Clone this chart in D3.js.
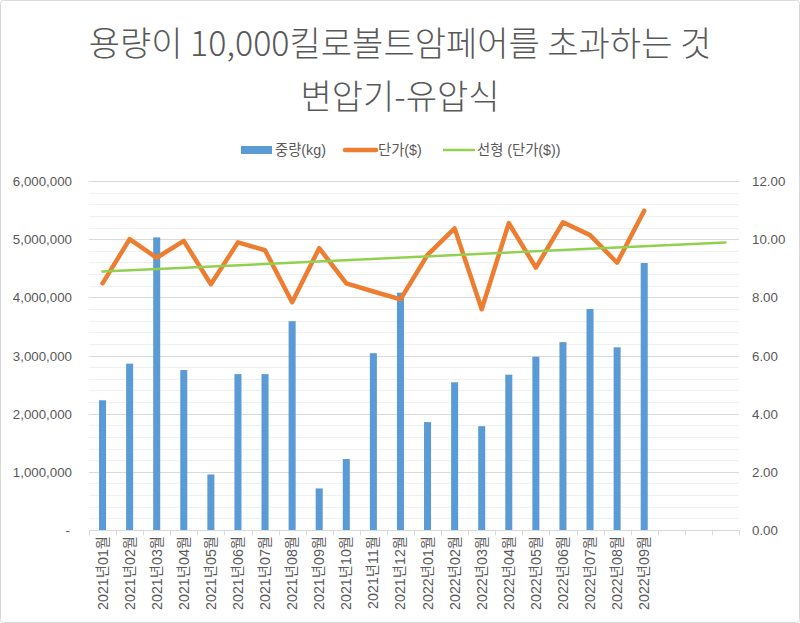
<!DOCTYPE html>
<html>
<head>
<meta charset="utf-8">
<script src="https://cdn.jsdelivr.net/npm/d3@7"></script>
<style>
  html, body { margin: 0; padding: 0; background: #fff; }
  svg { display: block; }
</style>
</head>
<body>
<svg id="chart" width="800" height="623"></svg>
<script>
// ---------------- DATA ----------------
const categories = [
  "2021년01월","2021년02월","2021년03월","2021년04월","2021년05월","2021년06월",
  "2021년07월","2021년08월","2021년09월","2021년10월","2021년11월","2021년12월",
  "2022년01월","2022년02월","2022년03월","2022년04월","2022년05월","2022년06월",
  "2022년07월","2022년08월","2022년09월"
];
const emptySlots = ["", " ", "  "];   // trendline forecast periods (blank categories)
const weightKg = [
  2230000, 2860000, 5030000, 2750000, 955000, 2680000,
  2680000, 3590000, 715000, 1220000, 3040000, 4080000,
  1855000, 2540000, 1785000, 2670000, 2980000, 3230000,
  3800000, 3140000, 4590000
];
const unitPrice = [
  8.48, 10.00, 9.36, 9.94, 8.45, 9.89,
  9.62, 7.83, 9.69, 8.48, 8.20, 7.93,
  9.46, 10.37, 7.59, 10.55, 9.02, 10.58,
  10.14, 9.19, 10.98
];
const leftTicks = [0, 1000000, 2000000, 3000000, 4000000, 5000000, 6000000];
const rightTicks = [0, 2, 4, 6, 8, 10, 12];
const titleLines = ["용량이 10,000킬로볼트암페어를 초과하는 것", "변압기-유압식"];
const legendLabels = ["중량(kg)", "단가($)", "선형 (단가($))"];
const forecastForward = 3;

// ---------------- LAYOUT ----------------
const svg = d3.select("#chart");
const W = 800, H = 623;
const plot = { left: 89, right: 739, top: 181, bottom: 530 };
const gray = "#595959";
const font = "'Liberation Sans','Noto Sans CJK KR',sans-serif";

// chart border
svg.append("rect").attr("x", 0.5).attr("y", 0.5).attr("width", W - 1).attr("height", H - 1)
  .attr("rx", 3).attr("fill", "#fff").attr("stroke", "#d9d9d9");

// scales
const slots = categories.concat(emptySlots);
const x = d3.scaleBand().domain(slots).range([plot.left, plot.right])
  .paddingInner(0.74).paddingOuter(0.37);
const step = x.step();
const xc = i => x(slots[i]) + x.bandwidth() / 2;
const yL = d3.scaleLinear().domain([0, 6000000]).range([plot.bottom, plot.top]);
const yR = d3.scaleLinear().domain([0, 12]).range([plot.bottom, plot.top]);

// minor gridlines
const minor = d3.range(0, 6000001, 200000).filter(v => v % 1000000 !== 0);
svg.append("g").selectAll("line").data(minor).join("line")
  .attr("x1", plot.left).attr("x2", plot.right)
  .attr("y1", d => Math.round(yL(d)) + 0.5).attr("y2", d => Math.round(yL(d)) + 0.5)
  .attr("stroke", "#f0f0f0").attr("stroke-width", 1);
// major gridlines
svg.append("g").selectAll("line").data(leftTicks.filter(v => v > 0)).join("line")
  .attr("x1", plot.left).attr("x2", plot.right)
  .attr("y1", d => Math.round(yL(d)) + 0.5).attr("y2", d => Math.round(yL(d)) + 0.5)
  .attr("stroke", "#d9d9d9").attr("stroke-width", 1);

// bars
svg.append("g").selectAll("rect").data(weightKg).join("rect")
  .attr("x", (d, i) => x(categories[i]))
  .attr("width", x.bandwidth())
  .attr("y", d => yL(d))
  .attr("height", d => yL(0) - yL(d))
  .attr("fill", "#5B9BD5");

// x axis line + ticks
const axisY = Math.round(yL(0)) + 0.5;
svg.append("line").attr("x1", plot.left).attr("x2", plot.right)
  .attr("y1", axisY).attr("y2", axisY).attr("stroke", "#d9d9d9");
svg.append("g").selectAll("line").data(d3.range(slots.length + 1)).join("line")
  .attr("x1", i => Math.round(plot.left + i * step) + 0.5)
  .attr("x2", i => Math.round(plot.left + i * step) + 0.5)
  .attr("y1", axisY).attr("y2", axisY + 5)
  .attr("stroke", "#d9d9d9");

// x labels
svg.append("g").selectAll("text").data(categories).join("text")
  .attr("transform", (d, i) => `translate(${xc(i) + 5},${plot.bottom + 6}) rotate(-90)`)
  .attr("text-anchor", "end")
  .attr("font-family", font).attr("font-size", 14.3).attr("fill", gray)
  .text(d => d);

// left axis labels
const fmtL = d => d === 0 ? "-" : d3.format(",")(d);
svg.append("g").selectAll("text").data(leftTicks).join("text")
  .attr("x", d => d === 0 ? 70 : 72).attr("y", d => yL(d) + 5)
  .attr("text-anchor", "end")
  .attr("font-family", font).attr("font-size", 13.3).attr("fill", gray)
  .text(fmtL);

// right axis labels
svg.append("g").selectAll("text").data(rightTicks).join("text")
  .attr("x", 752).attr("y", d => yR(d) + 5)
  .attr("text-anchor", "start")
  .attr("font-family", font).attr("font-size", 13.3).attr("fill", gray)
  .text(d => d3.format(".2f")(d));

// price line
const line = d3.line().x((d, i) => xc(i)).y(d => yR(d));
svg.append("path").datum(unitPrice).attr("d", line)
  .attr("fill", "none").attr("stroke", "#ED7D31").attr("stroke-width", 4.5)
  .attr("stroke-linejoin", "round").attr("stroke-linecap", "round");

// linear trendline (least squares on price, extended forward)
const n = unitPrice.length;
const xs = d3.range(n);
const mx = d3.mean(xs), my = d3.mean(unitPrice);
const slope = d3.sum(xs, i => (i - mx) * (unitPrice[i] - my)) / d3.sum(xs, i => (i - mx) ** 2);
const icpt = my - slope * mx;
const tEnd = n - 1 + forecastForward;
svg.append("line")
  .attr("x1", xc(0)).attr("y1", yR(icpt))
  .attr("x2", xc(tEnd)).attr("y2", yR(icpt + slope * tEnd))
  .attr("stroke", "#92D050").attr("stroke-width", 2.5).attr("stroke-linecap", "round");

// title
svg.append("g").selectAll("text").data(titleLines).join("text")
  .attr("x", W / 2).attr("y", (d, i) => 56 + i * 53)
  .attr("text-anchor", "middle")
  .attr("font-family", "'Noto Sans CJK KR',sans-serif").attr("font-weight", 300)
  .attr("font-size", 34).attr("fill", gray)
  .text(d => d);

// legend
const lg = svg.append("g").attr("font-family", font).attr("font-size", 14.3).attr("fill", gray);
const ly = 150;
lg.append("rect").attr("x", 241).attr("y", ly - 4).attr("width", 31).attr("height", 8).attr("fill", "#5B9BD5");
lg.append("text").attr("x", 275).attr("y", ly + 5).text(legendLabels[0]);
lg.append("line").attr("x1", 345).attr("x2", 376).attr("y1", ly).attr("y2", ly)
  .attr("stroke", "#ED7D31").attr("stroke-width", 4.5).attr("stroke-linecap", "round");
lg.append("text").attr("x", 378).attr("y", ly + 5).text(legendLabels[1]);
lg.append("line").attr("x1", 443).attr("x2", 475).attr("y1", ly).attr("y2", ly)
  .attr("stroke", "#92D050").attr("stroke-width", 2.5);
lg.append("text").attr("x", 477).attr("y", ly + 5).text(legendLabels[2]);
</script>
</body>
</html>
